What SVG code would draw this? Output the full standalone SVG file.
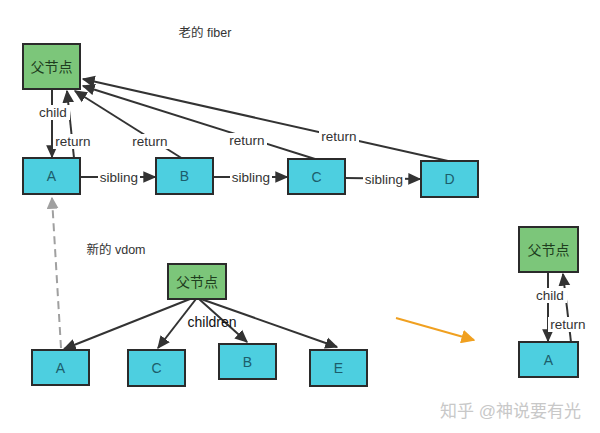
<svg xmlns="http://www.w3.org/2000/svg" width="600" height="433" viewBox="0 0 600 433">
<style>
text{font-family:"Liberation Sans","Noto Sans CJK SC",Arial,sans-serif;font-size:13.5px;fill:#333;}
.g{fill:#7cc67a;stroke:#2b2b2b;stroke-width:2;}
.c{fill:#4dcfe0;stroke:#2b2b2b;stroke-width:2;}
.nt{text-anchor:middle;dominant-baseline:central;fill:#1c5d6b;font-size:14px;}
.pt{text-anchor:middle;dominant-baseline:central;fill:#1e3e1e;font-size:14px;}
.l{stroke:#333;stroke-width:2;fill:none;marker-end:url(#ah);}
.lbl{text-anchor:middle;dominant-baseline:central;}
.bg{fill:#fff;}
</style>
<defs>
<marker id="ah" viewBox="0 0 10 10" refX="9" refY="5" markerWidth="6.5" markerHeight="6.5" markerUnits="strokeWidth" orient="auto">
<path d="M0,0.5 L10,5 L0,9.5 z" fill="#333"/>
</marker>
<marker id="ahg" viewBox="0 0 10 10" refX="9" refY="5" markerWidth="6" markerHeight="6" markerUnits="strokeWidth" orient="auto">
<path d="M0,0 L10,5 L0,10 z" fill="#a0a0a0"/>
</marker>
<marker id="aho" viewBox="0 0 10 10" refX="9" refY="5" markerWidth="7" markerHeight="7" markerUnits="strokeWidth" orient="auto">
<path d="M0,0 L10,5 L0,10 z" fill="#f0a020"/>
</marker>
</defs>
<rect width="600" height="433" fill="#fff"/>
<text x="205" y="37" text-anchor="middle" style="font-size:12.5px">老的 fiber</text>
<text x="116" y="254" text-anchor="middle" style="font-size:12.5px">新的 vdom</text>

<g id="connectors">
<line class="l" x1="52" y1="90" x2="52" y2="157"/>
<line class="l" x1="74" y1="158" x2="67" y2="91"/>
<line class="l" x1="183" y1="159" x2="75" y2="91"/>
<line class="l" x1="315" y1="159" x2="83" y2="86"/>
<line class="l" x1="448" y1="161" x2="83" y2="79"/>
<line class="l" x1="81" y1="177" x2="155" y2="177"/>
<line class="l" x1="214" y1="177" x2="287" y2="177"/>
<line class="l" x1="346" y1="178" x2="420" y2="179"/>
<rect class="bg" x="37" y="105" width="33" height="15"/>
<text class="lbl" x="53" y="112">child</text>
<rect class="bg" x="53" y="134" width="40" height="15"/>
<text class="lbl" x="73" y="141">return</text>
<rect class="bg" x="130" y="134" width="40" height="15"/>
<text class="lbl" x="150" y="141">return</text>
<rect class="bg" x="227" y="133" width="40" height="15"/>
<text class="lbl" x="247" y="140">return</text>
<rect class="bg" x="319" y="129" width="40" height="15"/>
<text class="lbl" x="339" y="136">return</text>
<rect class="bg" x="98" y="170" width="42" height="15"/>
<text class="lbl" x="119" y="177">sibling</text>
<rect class="bg" x="230" y="170" width="42" height="15"/>
<text class="lbl" x="251" y="177">sibling</text>
<rect class="bg" x="363" y="172" width="42" height="15"/>
<text class="lbl" x="384" y="179">sibling</text>
<line x1="61" y1="348" x2="52" y2="198" stroke="#a0a0a0" stroke-width="2" stroke-dasharray="8,5" marker-end="url(#ahg)"/>
<line class="l" x1="190" y1="299" x2="64" y2="349"/>
<line class="l" x1="196" y1="299" x2="158" y2="348"/>
<line class="l" x1="199" y1="299" x2="247" y2="342"/>
<line class="l" x1="201" y1="299" x2="337" y2="347"/>
<text x="212" y="322" text-anchor="middle" dominant-baseline="central" style="font-size:14px;fill:#111">children</text>
<line x1="396" y1="318" x2="474" y2="340" stroke="#f0a020" stroke-width="2" marker-end="url(#aho)"/>
<line class="l" x1="548" y1="273" x2="548" y2="341"/>
<line class="l" x1="571" y1="342" x2="563" y2="274"/>
<rect class="bg" x="534" y="288" width="33" height="15"/>
<text class="lbl" x="550" y="295">child</text>
<rect class="bg" x="548" y="317" width="40" height="15"/>
<text class="lbl" x="568" y="324">return</text>
</g>

<g id="old-parent"><rect class="g" x="23" y="44" width="57" height="45"/><text class="pt" x="51.5" y="66.5">父节点</text></g>
<g id="old-A"><rect class="c" x="23" y="158" width="57" height="36"/><text class="nt" x="51.5" y="176">A</text></g>
<g id="old-B"><rect class="c" x="156" y="158" width="57" height="36"/><text class="nt" x="184.5" y="176">B</text></g>
<g id="old-C"><rect class="c" x="288" y="159" width="57" height="35"/><text class="nt" x="316.5" y="176.5">C</text></g>
<g id="old-D"><rect class="c" x="421" y="161" width="57" height="36"/><text class="nt" x="449.5" y="179">D</text></g>

<g id="new-parent"><rect class="g" x="168" y="264" width="58" height="35"/><text class="pt" x="197" y="281.5">父节点</text></g>
<g id="new-A"><rect class="c" x="32" y="350" width="57" height="35"/><text class="nt" x="60.5" y="367.5">A</text></g>
<g id="new-C"><rect class="c" x="128" y="350" width="57" height="36"/><text class="nt" x="156.5" y="368">C</text></g>
<g id="new-B"><rect class="c" x="219" y="344" width="57" height="35"/><text class="nt" x="247.5" y="361.5">B</text></g>
<g id="new-E"><rect class="c" x="310" y="350" width="57" height="36"/><text class="nt" x="338.5" y="368">E</text></g>

<g id="res-parent"><rect class="g" x="519" y="227" width="59" height="45"/><text class="pt" x="548.5" y="249.5">父节点</text></g>
<g id="res-A"><rect class="c" x="519" y="342" width="59" height="35"/><text class="nt" x="548.5" y="359.5">A</text></g>

<text x="440" y="417" style="font-size:17px;fill:#c8c8c8">知乎 @神说要有光</text>
</svg>
